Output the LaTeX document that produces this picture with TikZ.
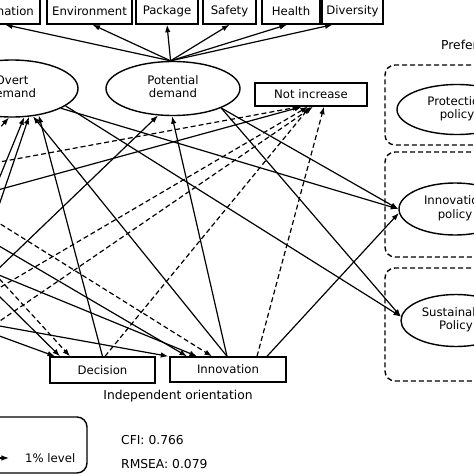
\documentclass[tikz,border=0pt]{standalone}
\usepackage{fontspec}
\setmainfont{DejaVu Sans}
\usetikzlibrary{shapes.geometric,arrows.meta,calc}
\begin{document}
\begin{tikzpicture}[x=1pt,y=-1pt,
  font=\fontsize{11.7}{13.5}\selectfont,
  box/.style={draw, line width=1.4pt, minimum height=25pt, inner sep=0pt},
  lat/.style={draw, ellipse, line width=1.4pt, inner sep=0pt, align=center, text depth=4pt},
  grp/.style={draw, line width=1.4pt, rounded corners=10pt, dash pattern=on 5pt off 3pt, inner sep=0pt},
  arr/.style={line width=1.2pt, -{Latex[length=7.5pt,width=5.5pt]}},
  darr/.style={arr, dash pattern=on 5pt off 3pt},
  lbl/.style={inner sep=0pt, font=\fontsize{12.3}{14}\selectfont},
]
\useasboundingbox (0,0) rectangle (474,474);
\clip (0,0) rectangle (474,474);

% top boxes
\node[box, minimum width=80pt] (info) at (0,11.5) {Information};
\node[box, minimum width=85pt] (env) at (89.5,11.5) {Environment};
\node[box, minimum width=62pt] (pack) at (167,11.5) {Package};
\node[box, minimum width=53pt] (safe) at (229.5,11.5) {Safety};
\node[box, minimum width=58pt] (health) at (291,11.5) {Health};
\node[box, minimum width=61pt] (div) at (352.5,11.5) {Diversity};

% latent ellipses
\node[lat, minimum width=132pt, minimum height=57pt] (overt) at (12,88.5) {Overt\\demand};
\node[lat, minimum width=134pt, minimum height=54pt] (pot) at (173,88.5) {Potential\\demand};
\node[box, minimum width=112pt, minimum height=23pt] (notinc) at (311,94.5) {Not increase};

% right groups
\node[lbl, anchor=west] (pref) at (441,45) {Preference};
\node[grp, minimum width=160pt, minimum height=80pt] (g1) at (465,105) {};
\node[grp, minimum width=160pt, minimum height=105pt] (g2) at (465,204.5) {};
\node[grp, minimum width=160pt, minimum height=113pt] (g3) at (465,324.5) {};
\node[lat, minimum width=120pt, minimum height=50pt] (prot) at (457,109.5) {Protection\\policy};
\node[lat, minimum width=112pt, minimum height=52pt] (innpol) at (455,209) {Innovation\\policy};
\node[lat, minimum width=110pt, minimum height=52pt] (suspol) at (456,320.5) {Sustainable\\Policy};

% bottom boxes
\node[box, minimum width=105pt, minimum height=26pt] (dec) at (102.5,370) {Decision};
\node[box, minimum width=116pt, minimum height=25pt] (inno) at (228,369.5) {Innovation};
\node[lbl] (indep) at (178,396) {Independent orientation};

% legend and fit
\node[draw, line width=1.4pt, rounded corners=10pt, minimum width=150pt, minimum height=56pt] (leg) at (12,445) {};
\coordinate (legs) at (-40,458);
\coordinate (lege) at (9,458);
\draw[arr] (legs) -- (lege);
\node[inner sep=0pt, anchor=west] (lvl) at (25,458) {1\% level};
\node[lbl, anchor=west] (cfi) at (121,440) {CFI: 0.766};
\node[lbl, anchor=west] (rmsea) at (121,464) {RMSEA: 0.079};

% off-picture sources on the left
\coordinate (L1) at (-20,150);
\coordinate (S2) at (-6,163);
\coordinate (S3) at (-6,191);
\coordinate (S4) at (-6,220);
\coordinate (S9) at (-6,243);
\coordinate (S5) at (-6,273);
\coordinate (S6) at (-6,291);
\coordinate (S7) at (-6,325);
\coordinate (S10) at (-6,334);

% potential demand -> indicators
\draw[arr] (pot.95) -- ($(info.south)+(5,0)$);
\draw[arr] (pot.95) -- ($(env.south)+(3,0)$);
\draw[arr] (pot.95) -- (pack.south);
\draw[arr] (pot.95) -- (safe.south);
\draw[arr] (pot.95) -- ($(health.south)+(-4,0)$);
\draw[arr] (pot.95) -- ($(div.south)+(-20,0)$);

% into overt demand
\draw[darr] (L1) -- (overt.-96);
\draw[arr] (S3) -- (overt.-67);
\draw[arr] (S4) -- (overt.-59);
\draw[arr] ($(inno.north)+(-1,0)$) -- (overt.-53);
\draw[arr] (dec.north) -- (overt.-45);

% into potential demand
\draw[arr] (S5) -- (pot.-119);
\draw[arr] ($(inno.north)+(-1,0)$) -- (pot.-92);

% into not increase
\draw[arr] (S3) -- ($(notinc.south)+(-9,0)$);
\draw[darr] (S2) -- ($(notinc.south)+(-11,0)$);
\draw[darr] (S6) -- ($(notinc.south)+(-3,0)$);
\draw[darr] (S7) -- ($(notinc.south)+(2,0)$);
\draw[darr] ($(dec.north)+(2.5,0)$) -- ($(notinc.south)+(-1,0)$);
\draw[darr] ($(inno.north)+(29,0)$) -- ($(notinc.south)+(13,0)$);

% into innovation policy
\draw[arr] (overt.-22) -- (innpol.west);
\draw[arr] (pot.-22) -- (innpol.west);
\draw[arr] ($(inno.north)+(39,0)$) -- (innpol.184);

% into sustainable policy
\draw[arr] (overt.-18) -- (suspol.176);
\draw[arr] (pot.-22) -- (suspol.176);

% into innovation (box)
\draw[arr] (S7) -- ($(inno.north west)+(-1,0)$);
\draw[arr] (S9) -- ($(inno.north)+(-41,0)$);
\draw[arr] (S5) -- ($(inno.north)+(-31,0)$);
\draw[darr] (S4) -- ($(inno.north)+(-16,0)$);

% into decision
\draw[arr] (S10) -- ($(dec.north)+(-47.5,0)$);
\draw[arr] (S6) -- ($(dec.north)+(-42.5,0)$);
\draw[darr] (S5) -- ($(dec.north)+(-32.5,0)$);
\end{tikzpicture}
\end{document}
